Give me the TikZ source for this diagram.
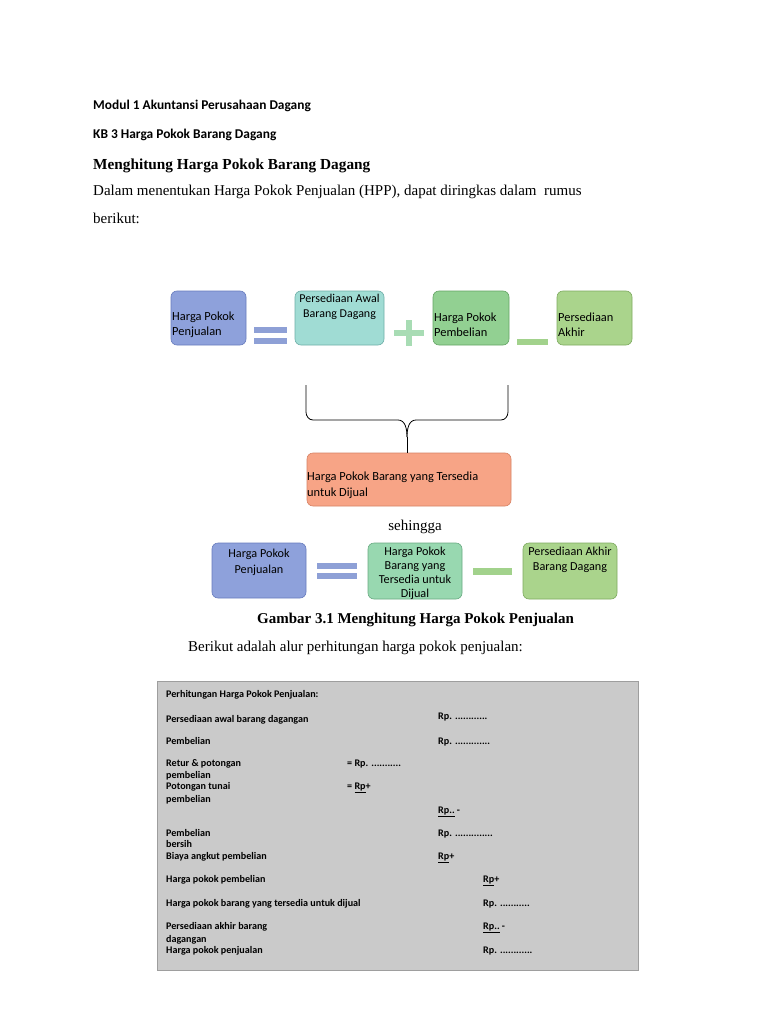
\documentclass[tikz,border=0pt]{standalone}
\usepackage{fontspec}
\setmainfont{Liberation Serif}
\newfontfamily\calfont{Carlito}
\definecolor{bluebox}{RGB}{142,161,219}
\definecolor{bluedraw}{RGB}{104,124,190}
\definecolor{tealbox}{RGB}{160,220,212}
\definecolor{tealdraw}{RGB}{110,175,168}
\definecolor{greenbox}{RGB}{146,208,146}
\definecolor{greendraw}{RGB}{100,165,100}
\definecolor{lgreenbox}{RGB}{170,212,140}
\definecolor{lgreendraw}{RGB}{125,170,95}
\definecolor{orangebox}{RGB}{247,164,134}
\definecolor{orangedraw}{RGB}{215,130,100}
\definecolor{mintbox}{RGB}{152,216,176}
\definecolor{mintdraw}{RGB}{105,170,130}
\definecolor{eqblue}{RGB}{142,160,214}
\definecolor{plusgreen}{RGB}{168,220,180}
\definecolor{minusgreen}{RGB}{162,210,140}
\definecolor{panel}{RGB}{202,202,202}
\definecolor{paneldraw}{RGB}{158,158,158}
\begin{document}
\begin{tikzpicture}[x=1pt,y=-1pt,
  box/.style={rounded corners=6pt,line width=0.6pt,inner sep=0pt},
  btxt/.style={font=\calfont\fontsize{12.4}{15}\selectfont,inner sep=0pt,align=left},
  ctxt/.style={font=\calfont\fontsize{12.2}{15}\selectfont,inner sep=0pt,align=center},
  hdr/.style={font=\calfont\bfseries\fontsize{13.4}{15}\selectfont,anchor=base west,inner sep=0pt},
  body/.style={font=\fontsize{15}{18}\selectfont,anchor=base west,inner sep=0pt},
  tb/.style={font=\calfont\bfseries\fontsize{10.1}{11}\selectfont,anchor=base west,inner sep=0pt},
]
\useasboundingbox (0,0) rectangle (768,1024);
\fill[white] (0,0) rectangle (768,1024);

% headings
\node[hdr] (h1) at (93,110) {Modul 1 Akuntansi Perusahaan Dagang};
\node[hdr] (h2) at (93,139) {KB 3 Harga Pokok Barang Dagang};
\node[body,font=\bfseries\fontsize{15.3}{18}\selectfont] (h3) at (93,170) {Menghitung Harga Pokok Barang Dagang};
\node[body] (p1) at (93,196) {Dalam menentukan Harga Pokok Penjualan (HPP), dapat diringkas dalam\ \ rumus};
\node[body] (p2) at (93,223) {berikut:};

% row 1
\draw[box,fill=bluebox,draw=bluedraw] (171,291) rectangle (246,345);
\node[btxt,anchor=west] (t1) at (172,324.5) {Harga Pokok\\Penjualan};
\fill[eqblue] (254,327) rectangle (287,333);
\fill[eqblue] (254,338) rectangle (287,344);
\draw[box,fill=tealbox,draw=tealdraw] (295,291) rectangle (384,345);
\node[ctxt,anchor=north,font=\calfont\fontsize{12}{14.5}\selectfont] (t2) at (339.5,294) {Persediaan Awal\\Barang Dagang};
\fill[plusgreen] (394,330) rectangle (424,336);
\fill[plusgreen] (406,320) rectangle (412,346);
\draw[box,fill=greenbox,draw=greendraw] (433,291) rectangle (509,345);
\node[btxt,anchor=west] (t3) at (434,324.5) {Harga Pokok\\Pembelian};
\fill[minusgreen] (517,339) rectangle (548,345);
\draw[box,fill=lgreenbox,draw=lgreendraw] (557,291) rectangle (632,345);
\node[btxt,anchor=west] (t4) at (558,324.5) {Persediaan\\Akhir};

% brace
\coordinate (bl) at (306,385);
\coordinate (br) at (508,385);
\coordinate (tip) at (407,437);
\draw[line width=0.8pt] (bl) -- (306,412) to[out=-90,in=180] (313,420) -- (398,420) to[out=0,in=90] (tip);
\draw[line width=0.8pt] (br) -- (508,412) to[out=-90,in=0] (501,420) -- (416,420) to[out=180,in=90] (tip);

% orange box
\draw[box,fill=orangebox,draw=orangedraw] (307,453) rectangle (511,506);
\node[btxt,anchor=west,font=\calfont\fontsize{12.4}{16}\selectfont] (t5) at (307,485) {Harga Pokok Barang yang Tersedia\\untuk Dijual};
\draw[line width=0.8pt] (tip) -- (407,453);

\node[body,anchor=base] (seh) at (415,530) {sehingga};

% row 2
\draw[box,fill=bluebox,draw=bluedraw] (212,543) rectangle (306,598);
\node[ctxt,anchor=north,font=\calfont\fontsize{12.2}{16}\selectfont] (t6) at (259,548.5) {Harga Pokok\\Penjualan};
\fill[eqblue] (317,563) rectangle (357,569);
\fill[eqblue] (317,573) rectangle (357,579);
\draw[box,fill=mintbox,draw=mintdraw] (368,543) rectangle (462,599);
\node[ctxt,anchor=north,font=\calfont\fontsize{12.2}{14.2}\selectfont] (t7) at (415,546.5) {Harga Pokok\\Barang yang\\Tersedia untuk\\Dijual};
\fill[minusgreen] (473,568) rectangle (512,575);
\draw[box,fill=lgreenbox,draw=lgreendraw] (523,543) rectangle (617,599);
\node[ctxt,anchor=north] (t8) at (570,547) {Persediaan Akhir\\Barang Dagang};

\node[body,anchor=base,font=\bfseries\fontsize{15}{18}\selectfont] (cap) at (415.5,623) {Gambar 3.1 Menghitung Harga Pokok Penjualan};
\node[body] (p3) at (188,651) {Berikut adalah alur perhitungan harga pokok penjualan:};

% panel
\draw[fill=panel,draw=paneldraw,line width=0.8pt] (157,681) rectangle (638,970);
\node[tb] (r0) at (166,697) {Perhitungan Harga Pokok Penjualan:};
\node[tb] (r1) at (166,722) {Persediaan awal barang dagangan};
\node[tb] (v1) at (438,719) {Rp. ............};
\node[tb] (r2) at (166,744) {Pembelian};
\node[tb] (v2) at (438,744) {Rp. .............};
\node[tb] (r3) at (166,766) {Retur \& potongan};
\node[tb] (r3b) at (166,778) {pembelian};
\node[tb] (v3) at (347,766) {= Rp. ...........};
\node[tb] (r4) at (166,789) {Potongan tunai};
\node[tb] (r4b) at (166,802) {pembelian};
\node[tb] (v4) at (347,789) {= \underline{Rp}+};
\node[tb] (v5) at (438,813) {\underline{Rp..} -};
\node[tb] (r6) at (166,836) {Pembelian};
\node[tb] (r6b) at (166,847) {bersih};
\node[tb] (v6) at (438,836) {Rp. ..............};
\node[tb] (r7) at (166,859) {Biaya angkut pembelian};
\node[tb] (v7) at (438,859) {\underline{Rp}+};
\node[tb] (r8) at (166,882) {Harga pokok pembelian};
\node[tb] (v8) at (483,882) {\underline{Rp}+};
\node[tb] (r9) at (166,906) {Harga pokok barang yang tersedia untuk dijual};
\node[tb] (v9) at (483,906) {Rp. ...........};
\node[tb] (r10) at (166,929) {Persediaan akhir barang};
\node[tb] (r10b) at (166,942) {dagangan};
\node[tb] (v10) at (483,929) {\underline{Rp..} -};
\node[tb] (r11) at (166,953) {Harga pokok penjualan};
\node[tb] (v11) at (483,953) {Rp. ............};
\end{tikzpicture}
\end{document}
